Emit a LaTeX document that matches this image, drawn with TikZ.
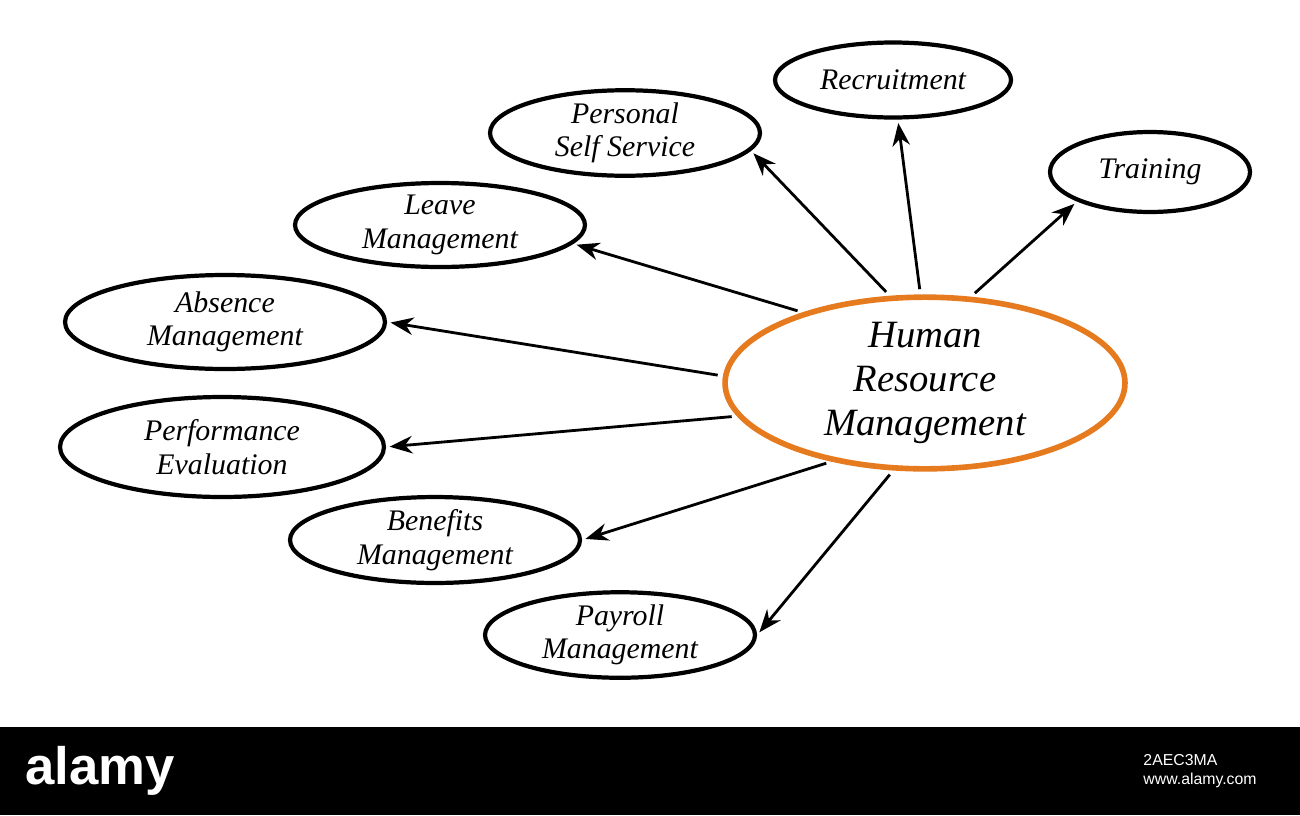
\documentclass[tikz,border=0pt]{standalone}
\usepackage{fontspec}
\setmainfont{Liberation Serif}
\newfontfamily\sansf{Liberation Sans}
\usetikzlibrary{shapes.geometric,arrows.meta}
\definecolor{hrorange}{HTML}{E57A1F}
\begin{document}
\begin{tikzpicture}[x=0.02cm,y=-0.02cm,
  ell/.style={ellipse,draw=black,line width=2.4pt,inner sep=0pt,align=center,font=\fontsize{17}{19}\selectfont\itshape},
  arr/.style={-{Stealth[length=13pt,width=10pt]},line width=1.6pt,shorten >=2pt,shorten <=3pt}]
\useasboundingbox (0,0) rectangle (1300,815);
\fill[black] (0,727) rectangle (1300,815);
\node[text=white,font=\sansf\bfseries\fontsize{30}{30}\selectfont] (logo) at (100,771) {alamy};
\node[text=white,font=\sansf\fontsize{9}{11}\selectfont,align=left] (ids) at (1200,771) {2AEC3MA\\www.alamy.com};
\node[ell,minimum width=4.72cm,minimum height=1.5cm] (rec) at (893,80) {Recruitment};
\node[ell,minimum width=5.4cm,minimum height=1.68cm] (pss) at (625,133) {Personal\\Self Service};
\node[ell,minimum width=4.0cm,minimum height=1.6cm] (tr) at (1150,172) {Training};
\node[ell,minimum width=5.8cm,minimum height=1.68cm] (lv) at (440,225) {Leave\\Management};
\node[ell,minimum width=6.4cm,minimum height=1.88cm] (ab) at (225,322) {Absence\\Management};
\node[ell,minimum width=6.48cm,minimum height=2.0cm] (pe) at (222,447) {Performance\\Evaluation};
\node[ell,minimum width=5.8cm,minimum height=1.68cm] (be) at (435,540) {Benefits\\Management};
\node[ell,minimum width=5.4cm,minimum height=1.68cm] (pa) at (620,635) {Payroll\\Management};
\node[ell,draw=hrorange,line width=3.2pt,minimum width=8cm,minimum height=3.2cm,font=\fontsize{22}{25}\selectfont\itshape] (hrm) at (925,383) {Human\\Resource\\Management};
\draw[arr] (hrm.112) -- (pss.-8);
\draw[arr] (hrm.93) -- (rec.-83);
\draw[arr] (hrm.62) -- (tr.202);
\draw[arr] (hrm.150) -- (lv.-8);
\draw[arr] (hrm.178) -- (ab.east);
\draw[arr] (hrm.190) -- (pe.east);
\draw[arr] (hrm.220) -- (be.east);
\draw[arr] (hrm.250) -- (pa.east);
\end{tikzpicture}
\end{document}
